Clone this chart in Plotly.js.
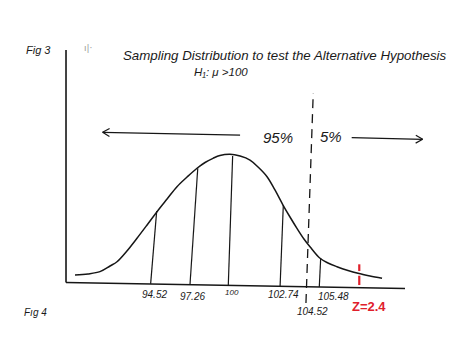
<!DOCTYPE html>
<html>
<head>
<meta charset="utf-8">
<script src="https://cdn.plot.ly/plotly-3.0.1.min.js"></script>
<style>html,body{margin:0;padding:0;background:#fff;}#chart{width:474px;height:355px;}</style>
</head>
<body>
<div id="chart"></div>
<script>
// ---- data (x in sample-mean units, y in density units) ----
var curveX = [90.00, 90.84, 91.61, 92.26, 92.71, 93.35, 94.00, 94.65, 95.29, 95.94, 96.58, 97.23, 97.87, 98.39, 98.90, 99.35, 100.00, 100.65, 101.29, 101.81, 102.39, 102.90, 103.42, 103.87, 104.32, 104.77, 105.16, 105.81, 106.32, 106.90, 107.61, 108.26, 109.03, 109.81];
var curveY = [0.0090, 0.0102, 0.0128, 0.0192, 0.0240, 0.0361, 0.0505, 0.0655, 0.0805, 0.0948, 0.1087, 0.1196, 0.1295, 0.1360, 0.1407, 0.1439, 0.1453, 0.1433, 0.1388, 0.1309, 0.1200, 0.1050, 0.0880, 0.0745, 0.0617, 0.0497, 0.0410, 0.0279, 0.0226, 0.0184, 0.0141, 0.0109, 0.0079, 0.0053];

var tickLabels = ['94.52', '97.26', '100', '102.74', '105.48'];
var tickBottomX = [94.88, 97.42, 99.89, 103.23, 105.76];
var tickBottomY = [-0.0010, -0.0015, -0.0023, -0.0040, -0.0045];
var tickTopX = [95.27, 97.92, 100.17, 103.44, 105.85];
var tickTopY = [0.0813, 0.1295, 0.1433, 0.0880, 0.0279];

var criticalLabel = '104.52';
var criticalX = [104.90, 105.37];
var criticalY = [-0.0226, 0.2144];

var zLabel = 'Z=2.4';
var zMarkX = [108.34, 108.34, null, 108.34, 108.34];
var zMarkY = [0.0211, 0.0135, null, 0.0082, -0.0023];

var baseX = [89.42, 111.29];
var baseY = [0.0006, -0.0062];
var axisX = [89.42, 89.42];
var axisY = [0.0006, 0.263];

var leftShare = '95%';
var rightShare = '5%';
var leftArrowX = [100.65, 91.78];   // tail, head
var leftArrowY = [0.1670, 0.1701];
var rightArrowX = [107.85, 112.43];
var rightArrowY = [0.1640, 0.1622];

var xRange = [85.161, 115.742];
var yRange = [-0.08126, 0.31941];
var W = 474, H = 355;

// ---- build traces ----
var tx = [], ty = [];
for (var i = 0; i < tickLabels.length; i++) {
  tx.push(tickBottomX[i], tickTopX[i], null);
  ty.push(tickBottomY[i], tickTopY[i], null);
}

// arrow: shaft + open V head, head arms sized in screen pixels via the axis scales
var kx = W / (xRange[1] - xRange[0]);
var ky = H / (yRange[1] - yRange[0]);
function arrowXY(ax, ay) {
  var x0 = ax[0], y0 = ay[0], x1 = ax[1], y1 = ay[1];
  var dxp = (x1 - x0) * kx, dyp = (y1 - y0) * ky;
  var len = Math.sqrt(dxp * dxp + dyp * dyp);
  var ux = dxp / len, uy = dyp / len;
  var L = 8, ang = 30 * Math.PI / 180;
  var xs = [x0, x1, null], ys = [y0, y1, null];
  [ang, -ang].forEach(function (a) {
    var bx = -(ux * Math.cos(a) - uy * Math.sin(a));
    var by = -(ux * Math.sin(a) + uy * Math.cos(a));
    xs.push(x1, x1 + bx * L / kx, null);
    ys.push(y1, y1 + by * L / ky, null);
  });
  return {x: xs, y: ys};
}
var la = arrowXY(leftArrowX, leftArrowY);
var ra = arrowXY(rightArrowX, rightArrowY);

var ink = '#161616';
var traces = [
  {x: baseX, y: baseY, mode: 'lines', line: {color: ink, width: 1.6}, hoverinfo: 'skip'},
  {x: axisX, y: axisY, mode: 'lines', line: {color: ink, width: 1.6}, hoverinfo: 'skip'},
  {x: curveX, y: curveY, mode: 'lines', line: {color: ink, width: 1.5, shape: 'spline', smoothing: 1}, hoverinfo: 'skip'},
  {x: tx, y: ty, mode: 'lines', line: {color: ink, width: 1.2}, hoverinfo: 'skip', connectgaps: false},
  {x: criticalX, y: criticalY, mode: 'lines', line: {color: ink, width: 1.3, dash: '9px,6px'}, hoverinfo: 'skip'},
  {x: zMarkX, y: zMarkY, mode: 'lines', line: {color: '#e0202b', width: 2.2}, hoverinfo: 'skip', connectgaps: false},
  {x: la.x, y: la.y, mode: 'lines', line: {color: ink, width: 1.2}, hoverinfo: 'skip', connectgaps: false},
  {x: ra.x, y: ra.y, mode: 'lines', line: {color: ink, width: 1.2}, hoverinfo: 'skip', connectgaps: false}
];

var fam = 'Liberation Sans, Arial, sans-serif';
function f(size) { return {family: fam, color: '#1a1a1a', size: size}; }

var labelPos = [[95.16, -0.0135], [97.61, -0.0147], [100.13, -0.0102], [103.42, -0.0135], [106.65, -0.0147]];
var annotations = [];
for (var j = 0; j < tickLabels.length; j++) {
  annotations.push({x: labelPos[j][0], y: labelPos[j][1], xref: 'x', yref: 'y', text: '<i>' + tickLabels[j] + '</i>',
    showarrow: false, font: f(tickLabels[j] === '100' ? 8 : 10)});
}
annotations.push({x: 105.29, y: -0.0327, xref: 'x', yref: 'y', text: '<i>' + criticalLabel + '</i>', showarrow: false, font: f(10)});
annotations.push({x: 108.97, y: -0.0262, xref: 'x', yref: 'y', text: '<b>' + zLabel + '</b>', showarrow: false,
  font: {family: fam, size: 13, color: '#e0202b'}});
annotations.push({x: 103.10, y: 0.1637, xref: 'x', yref: 'y', text: '<i>' + leftShare + '</i>', showarrow: false, font: f(15)});
annotations.push({x: 106.52, y: 0.1648, xref: 'x', yref: 'y', text: '<i>' + rightShare + '</i>', showarrow: false, font: f(15)});
// titles / notes (paper coords)
annotations.push({x: 285/474, y: 1 - 46/355, xref: 'paper', yref: 'paper', text: '<i>Sampling Distribution to test the Alternative Hypothesis</i>',
  showarrow: false, font: f(13.3)});
annotations.push({x: 221/474, y: 1 - 63.5/355, xref: 'paper', yref: 'paper', text: '<i>H₁: μ >100</i>', showarrow: false, font: f(11.5)});
annotations.push({x: 24/474, y: 1 - 42/355, xref: 'paper', yref: 'paper', text: '<i>Fig 3</i>', showarrow: false, font: f(11)});
annotations.push({x: 82/474, y: 1 - 41/355, xref: 'paper', yref: 'paper', text: 'ı|·', showarrow: false, font: {family: 'DejaVu Sans', size: 9, color: '#9a9a9a'}});
annotations.push({x: 22/474, y: 1 - 320/355, xref: 'paper', yref: 'paper', text: '<i>Fıg 4</i>', showarrow: false, font: f(10)});

var layout = {
  width: W, height: H,
  margin: {l: 0, r: 0, t: 0, b: 0, pad: 0},
  paper_bgcolor: '#ffffff', plot_bgcolor: '#ffffff',
  showlegend: false,
  xaxis: {range: xRange, visible: false, fixedrange: true},
  yaxis: {range: yRange, visible: false, fixedrange: true},
  annotations: annotations
};

Plotly.newPlot('chart', traces, layout, {displayModeBar: false, staticPlot: true});
</script>
</body>
</html>
